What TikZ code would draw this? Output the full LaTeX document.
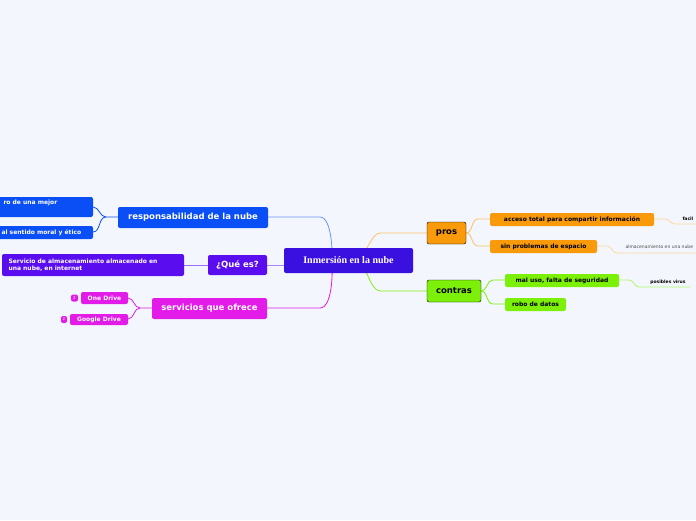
\documentclass[tikz,border=0pt]{standalone}
\usepackage{fontspec}
\setmainfont{DejaVu Sans}
\newfontfamily\serifb{Liberation Serif}
\definecolor{bg}{HTML}{F3F6FD}
\definecolor{cen}{HTML}{3A10E0}
\definecolor{blu}{HTML}{0A4EF5}
\definecolor{pur}{HTML}{5A0EF0}
\definecolor{mag}{HTML}{E21BE8}
\definecolor{ora}{HTML}{F89A0A}
\definecolor{gre}{HTML}{7DF00A}
\tikzset{
 box/.style={rounded corners=2pt,inner sep=0pt,text=white,font=\bfseries},
 bx/.style={draw=none,rounded corners=2pt},
 ln/.style={line width=0.8pt},
}
\begin{document}
\begin{tikzpicture}[x=1pt,y=-1pt]
\useasboundingbox (0,0) rectangle (696,520);
\fill[bg] (0,0) rectangle (696,520);
% connectors
\draw[ln,blu!60] (268,217) -- (320,217) to[out=0,in=-90] (332,248);
\draw[ln,pur!50] (267,265) -- (284,265);
\draw[ln,mag] (267,308) -- (320,308) to[out=0,in=90] (332,273);
\draw[ln,ora!60] (427,233) -- (380,233) to[out=180,in=-90] (365,248);
\draw[ln,gre] (427,291) -- (380,291) to[out=180,in=90] (365,273);
\draw[ln,blu] (118,217) -- (106,217) to[out=180,in=0] (93,207);
\draw[ln,blu] (106,217) to[out=180,in=0] (93,232);
\draw[ln,pur!60] (208,265) -- (184,265);
\draw[ln,mag] (152,308) -- (140,308) to[out=180,in=0] (128,298);
\draw[ln,mag] (140,308) to[out=180,in=0] (128,319);
\draw[ln,ora!60] (490,219) -- (478,219) to[out=180,in=0] (466,233);
\draw[ln,ora!60] (490,246) -- (478,246) to[out=180,in=0] (466,233);
\draw[ln,ora!40] (654,219) -- (665,219) to[out=0,in=180] (675,224) -- (696,224);
\draw[ln,ora!40] (597,246) -- (607,246) to[out=0,in=180] (617,253) -- (696,253);
\draw[ln,gre] (505,280) -- (493,280) to[out=180,in=0] (481,291);
\draw[ln,gre] (505,304) -- (493,304) to[out=180,in=0] (481,291);
\draw[ln,gre!60] (619,280) -- (629,280) to[out=0,in=180] (639,287) -- (690,287);
% nodes
\node[box,fill=cen,minimum width=129pt,minimum height=25pt,font=\serifb\bfseries\fontsize{10}{12}\selectfont] (c) at (348.5,260.5) {Inmersión en la nube};
\node[box,fill=blu,minimum width=150pt,minimum height=21pt,font=\bfseries\fontsize{8.5}{10}\selectfont] (r) at (193,217.5) {responsabilidad de la nube};
\fill[blu,rounded corners=2pt] (-5,197) rectangle (93,217);
\node[anchor=west,text=white,font=\bfseries\fontsize{6}{7}\selectfont] (r1) at (0,203) {ro de una mejor};
\fill[blu,rounded corners=2pt] (-5,226) rectangle (93,239);
\node[anchor=west,text=white,font=\bfseries\fontsize{6}{7}\selectfont] (r2) at (-2,232.5) {al sentido moral y ético};
\node[box,fill=pur,minimum width=59pt,minimum height=20pt,font=\bfseries\fontsize{8.5}{10}\selectfont] (q) at (237.5,265) {¿Qué es?};
\fill[pur,rounded corners=2pt] (2,254) rectangle (184,276);
\node[anchor=west,text=white,align=left,font=\bfseries\fontsize{6}{7}\selectfont] (q1) at (5,265) {Servicio de almacenamiento almacenado en\\una nube, en internet};
\node[box,fill=mag,minimum width=115pt,minimum height=21pt,font=\bfseries\fontsize{8.5}{10}\selectfont] (s) at (209.5,308.5) {servicios que ofrece};
\node[box,fill=mag,minimum width=47pt,minimum height=12pt,font=\bfseries\fontsize{6}{7}\selectfont] (s1) at (104.5,298) {One Drive};
\node[box,fill=mag,minimum width=58pt,minimum height=11pt,font=\bfseries\fontsize{6}{7}\selectfont] (s2) at (99,319.5) {Google Drive};
\node[box,fill=mag,minimum width=7pt,minimum height=7pt,font=\fontsize{4}{5}\selectfont] (b1) at (74.5,298) {2};
\node[box,fill=mag,minimum width=6pt,minimum height=7pt,font=\fontsize{4}{5}\selectfont] (b2) at (64,319.5) {2};
\node[box,draw=black,fill=ora,text=black,minimum width=39pt,minimum height=22pt,font=\bfseries\fontsize{8.5}{10}\selectfont] (p) at (446.5,233) {pros};
\node[box,fill=ora,text=black,minimum width=164pt,minimum height=13pt,font=\bfseries\fontsize{6}{7}\selectfont] (p1) at (572,219.5) {acceso total para compartir información};
\node[box,fill=ora,text=black,minimum width=107pt,minimum height=13pt,font=\bfseries\fontsize{6}{7}\selectfont] (p2) at (543.5,246.5) {sin problemas de espacio};
\node[anchor=west,font=\bfseries\fontsize{4.5}{5}\selectfont] (p11) at (679,219) {facil};
\node[anchor=west,text=black!70,font=\fontsize{4.5}{5}\selectfont] (p21) at (622,247) {almacenamiento en una nube};
\node[box,draw=black,fill=gre,text=black,minimum width=54pt,minimum height=22pt,font=\bfseries\fontsize{8.5}{10}\selectfont] (k) at (454,291) {contras};
\node[box,fill=gre,text=black,minimum width=114pt,minimum height=13pt,font=\bfseries\fontsize{6}{7}\selectfont] (k1) at (562,280.5) {mal uso, falta de seguridad};
\node[box,fill=gre,text=black,minimum width=61pt,minimum height=13pt,font=\bfseries\fontsize{6}{7}\selectfont] (k2) at (535.5,304.5) {robo de datos};
\node[font=\bfseries\fontsize{4.5}{5}\selectfont] (k11) at (668,282) {posibles virus};
\end{tikzpicture}
\end{document}
